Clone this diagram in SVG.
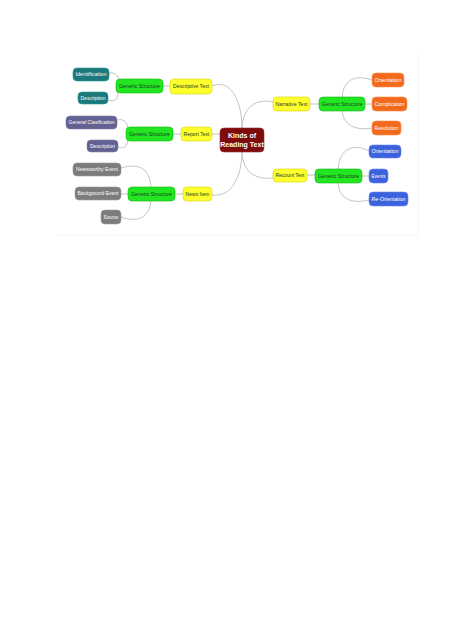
<svg xmlns="http://www.w3.org/2000/svg" width="453" height="640" viewBox="0 0 453 640">
<style>
.bg{fill:#ffffff}
.frame{fill:none;stroke:#f3f3f3;stroke-width:0.8}
.c{fill:none;stroke:#b4b4b4;stroke-width:0.8}
rect{stroke-width:0.6}
.teal{fill:#1b787b;stroke:#2a9a9c}
.slate{fill:#62618f;stroke:#8483b0}
.gray{fill:#7c7c7c;stroke:#9a9a9a}
.orange{fill:#f26a1c;stroke:#ff9250}
.blue{fill:#3d62de;stroke:#6b8af0}
.green{fill:#22e622;stroke:#12b812}
.yellow{fill:#ffff2e;stroke:#d4d400}
.center{fill:#7e0b0b;stroke:#a03030}
text{font-family:"Liberation Sans",Arial,sans-serif;font-size:5px;text-anchor:middle}
.w{fill:#ffffff}
.d{fill:#1e3a1e}
.big{font-size:7px;font-weight:bold;fill:#ffffff}
</style>
<rect class="bg" x="0" y="0" width="453" height="640"/>
<path class="frame" d="M56,235 L418,235 L418,52"/>
<g id="connectors">
<path class="c" d="M212,86 C230,78 242,100 242,128"/>
<path class="c" d="M273,102 C255,98 243,108 242,128"/>
<path class="c" d="M242,152 C243,172 255,180 273,178"/>
<path class="c" d="M242,152 C242,175 232,198 212,195"/>
<path class="c" d="M212,134 L220,134"/>
<path class="c" d="M163,86 L170,86"/>
<path class="c" d="M173,134 L181,134"/>
<path class="c" d="M175,194 L183,194"/>
<path class="c" d="M310,104 L319,104"/>
<path class="c" d="M307,175 L315,175"/>
<path class="c" d="M109,73 C119,72 120,80 118,86"/>
<path class="c" d="M108,100 C116,103 119,97 118,90"/>
<path class="c" d="M117,120 C125,118 128,124 128,130"/>
<path class="c" d="M118,147 C125,150 128,145 128,138"/>
<path class="c" d="M121,168 C140,162 151,170 151,190"/>
<path class="c" d="M121,194 L128,194"/>
<path class="c" d="M121,217 C140,224 151,215 151,198"/>
<path class="c" d="M342,100 C342,80 355,74 372,80"/>
<path class="c" d="M365,104 L372,104"/>
<path class="c" d="M342,108 C342,125 355,131 372,128"/>
<path class="c" d="M338,172 C338,150 352,142 369,151"/>
<path class="c" d="M362,176 L369,176"/>
<path class="c" d="M338,180 C338,200 352,204 369,200"/>
</g>
<g id="center"><rect class="center" x="220" y="128" width="44" height="24" rx="4"/><text class="big" x="242" y="138">Kinds of</text><text class="big" x="242" y="147">Reading Text</text></g>
<g id="descriptive"><rect class="yellow" x="170" y="79" width="42" height="15" rx="4"/><text class="d" x="191" y="88.3" textLength="36" lengthAdjust="spacingAndGlyphs">Descriptive Text</text></g>
<g id="gs1"><rect class="green" x="116" y="79" width="47" height="14" rx="4"/><text class="d" x="139.5" y="87.8" textLength="41" lengthAdjust="spacingAndGlyphs">Generic Structure</text></g>
<g id="identification"><rect class="teal" x="73" y="68" width="36" height="13" rx="4"/><text class="w" x="91" y="76.3" textLength="31" lengthAdjust="spacingAndGlyphs">Identification</text></g>
<g id="description1"><rect class="teal" x="78" y="92" width="30" height="12" rx="4"/><text class="w" x="93" y="99.8" textLength="25" lengthAdjust="spacingAndGlyphs">Description</text></g>
<g id="report"><rect class="yellow" x="181" y="127" width="31" height="14" rx="4"/><text class="d" x="196.5" y="135.8" textLength="26" lengthAdjust="spacingAndGlyphs">Report Text</text></g>
<g id="gs2"><rect class="green" x="126" y="127" width="47" height="14" rx="4"/><text class="d" x="149.5" y="135.8" textLength="41" lengthAdjust="spacingAndGlyphs">Generic Structure</text></g>
<g id="general"><rect class="slate" x="66" y="116" width="51" height="13" rx="4"/><text class="w" x="91.5" y="124.3" textLength="46" lengthAdjust="spacingAndGlyphs">General Clasification</text></g>
<g id="description2"><rect class="slate" x="87" y="140" width="31" height="12" rx="4"/><text class="w" x="102.5" y="147.8" textLength="25" lengthAdjust="spacingAndGlyphs">Description</text></g>
<g id="news"><rect class="yellow" x="183" y="187" width="29" height="14" rx="4"/><text class="d" x="197.5" y="195.8" textLength="24" lengthAdjust="spacingAndGlyphs">News Item</text></g>
<g id="gs3"><rect class="green" x="128" y="187" width="47" height="14" rx="4"/><text class="d" x="151.5" y="195.8" textLength="41" lengthAdjust="spacingAndGlyphs">Generic Structure</text></g>
<g id="newsworthy"><rect class="gray" x="73" y="163" width="48" height="13" rx="4"/><text class="w" x="97" y="171.3" textLength="42" lengthAdjust="spacingAndGlyphs">Newsworthy Event</text></g>
<g id="background"><rect class="gray" x="75" y="187" width="46" height="13" rx="4"/><text class="w" x="98" y="195.3" textLength="41" lengthAdjust="spacingAndGlyphs">Background Event</text></g>
<g id="source"><rect class="gray" x="101" y="210" width="20" height="14" rx="4"/><text class="w" x="111" y="218.8" textLength="15" lengthAdjust="spacingAndGlyphs">Source</text></g>
<g id="narrative"><rect class="yellow" x="273" y="97" width="37" height="14" rx="4"/><text class="d" x="291.5" y="105.8" textLength="32" lengthAdjust="spacingAndGlyphs">Narrative Text</text></g>
<g id="gs4"><rect class="green" x="319" y="97" width="46" height="14" rx="4"/><text class="d" x="342" y="105.8" textLength="41" lengthAdjust="spacingAndGlyphs">Generic Structure</text></g>
<g id="orientation1"><rect class="orange" x="372" y="73" width="32" height="14" rx="4"/><text class="w" x="388" y="81.8" textLength="27" lengthAdjust="spacingAndGlyphs">Orientation</text></g>
<g id="complication"><rect class="orange" x="372" y="97" width="35" height="14" rx="4"/><text class="w" x="389.5" y="105.8" textLength="30" lengthAdjust="spacingAndGlyphs">Complication</text></g>
<g id="resolution"><rect class="orange" x="372" y="121" width="29" height="14" rx="4"/><text class="w" x="386.5" y="129.8" textLength="24" lengthAdjust="spacingAndGlyphs">Resolution</text></g>
<g id="recount"><rect class="yellow" x="273" y="169" width="34" height="13" rx="4"/><text class="d" x="290" y="177.3" textLength="29" lengthAdjust="spacingAndGlyphs">Recount Text</text></g>
<g id="gs5"><rect class="green" x="315" y="169" width="47" height="14" rx="4"/><text class="d" x="338.5" y="177.8" textLength="41" lengthAdjust="spacingAndGlyphs">Generic Structure</text></g>
<g id="orientation2"><rect class="blue" x="369" y="145" width="32" height="13" rx="4"/><text class="w" x="385" y="153.3" textLength="27" lengthAdjust="spacingAndGlyphs">Orientation</text></g>
<g id="events"><rect class="blue" x="369" y="169" width="19" height="14" rx="4"/><text class="w" x="378.5" y="177.8" textLength="14" lengthAdjust="spacingAndGlyphs">Events</text></g>
<g id="reorientation"><rect class="blue" x="369" y="192" width="39" height="14" rx="4"/><text class="w" x="388.5" y="200.8" textLength="34" lengthAdjust="spacingAndGlyphs">Re-Orientation</text></g>
</svg>
